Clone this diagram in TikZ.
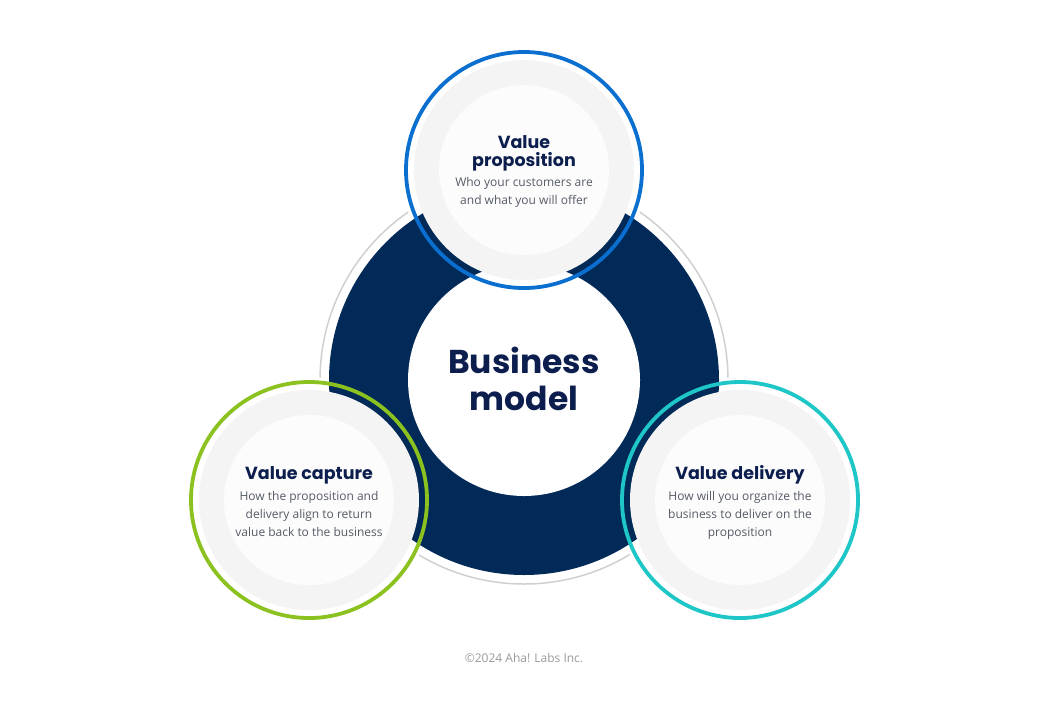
\documentclass[tikz,border=0pt]{standalone}
\usepackage{fontspec}
\setmainfont{Open Sans}
\newfontfamily\titlefont{Poppins}
\definecolor{navy}{HTML}{022A58}
\definecolor{titlecol}{HTML}{0C1E4E}
\definecolor{bodycol}{HTML}{555B66}
\definecolor{ringgray}{HTML}{F4F4F4}
\definecolor{innerwhite}{HTML}{FCFCFC}
\definecolor{biggray}{HTML}{D0D0D0}
\definecolor{blueedge}{HTML}{0A6FCF}
\definecolor{greenedge}{HTML}{8CC220}
\definecolor{tealedge}{HTML}{1EC6C8}
\definecolor{copycol}{HTML}{9A9A9A}
\tikzset{
  disk/.style={circle, inner sep=0pt, outer sep=0pt, minimum size=#1},
  bigtitle/.style={font=\titlefont\bfseries\fontsize{33}{37}\selectfont, text=titlecol, align=center, anchor=base, inner sep=0pt},
  smalltitle/.style={font=\titlefont\bfseries\fontsize{17.5}{18}\selectfont, text=titlecol, align=center, anchor=base, inner sep=0pt},
  bodytext/.style={font=\fontsize{12}{17.8}\selectfont, text=bodycol, align=center, anchor=base, inner sep=0pt},
}
\begin{document}
\begin{tikzpicture}[x=1pt,y=-1pt]
\useasboundingbox[fill=white] (0,0) rectangle (1048,716);
% outer gray guide circle
\node[disk=408pt, draw=biggray, line width=1.5pt] (guide) at (524,380) {};
% white masks under the small circles
\foreach \p in {(524,170),(309,500),(740,500)}
  \fill[white] \p circle (123);
% navy ring
\node[disk=390pt, fill=navy] (ring) at (524,380) {};
\node[disk=232pt, fill=white] (core) at (524,380) {};
% small circles
\node[disk=220pt, fill=ringgray] (vpRing) at (524,170) {};
\node[disk=170pt, fill=innerwhite] (vpIn) at (524,170) {};
\node[disk=236pt, draw=blueedge, line width=3.8pt] (vp) at (524,170) {};
\node[disk=220pt, fill=ringgray] (vcRing) at (309,500) {};
\node[disk=170pt, fill=innerwhite] (vcIn) at (309,500) {};
\node[disk=236pt, draw=greenedge, line width=3.8pt] (vc) at (309,500) {};
\node[disk=220pt, fill=ringgray] (vdRing) at (740,500) {};
\node[disk=170pt, fill=innerwhite] (vdIn) at (740,500) {};
\node[disk=236pt, draw=tealedge, line width=3.8pt] (vd) at (740,500) {};
% texts (base anchor = baseline of the last line)
\node[bigtitle] (bmText) at (524,410) {Business\\model};
\node[smalltitle] (vpTitle) at (524,166) {Value\\proposition};
\node[bodytext] (vpBody) at (524,204) {Who your customers are\\and what you will offer};
\node[smalltitle] (vcTitle) at (309,479) {Value capture};
\node[bodytext] (vcBody) at (309,536) {How the proposition and\\delivery align to return\\value back to the business};
\node[smalltitle] (vdTitle) at (740,479) {Value delivery};
\node[bodytext] (vdBody) at (740,536) {How will you organize the\\business to deliver on the\\proposition};
\node[font=\fontsize{12}{14}\selectfont, text=copycol, anchor=base, inner sep=0pt] (copy) at (524,662.5) {©2024 Aha! Labs Inc.};
\end{tikzpicture}
\end{document}
